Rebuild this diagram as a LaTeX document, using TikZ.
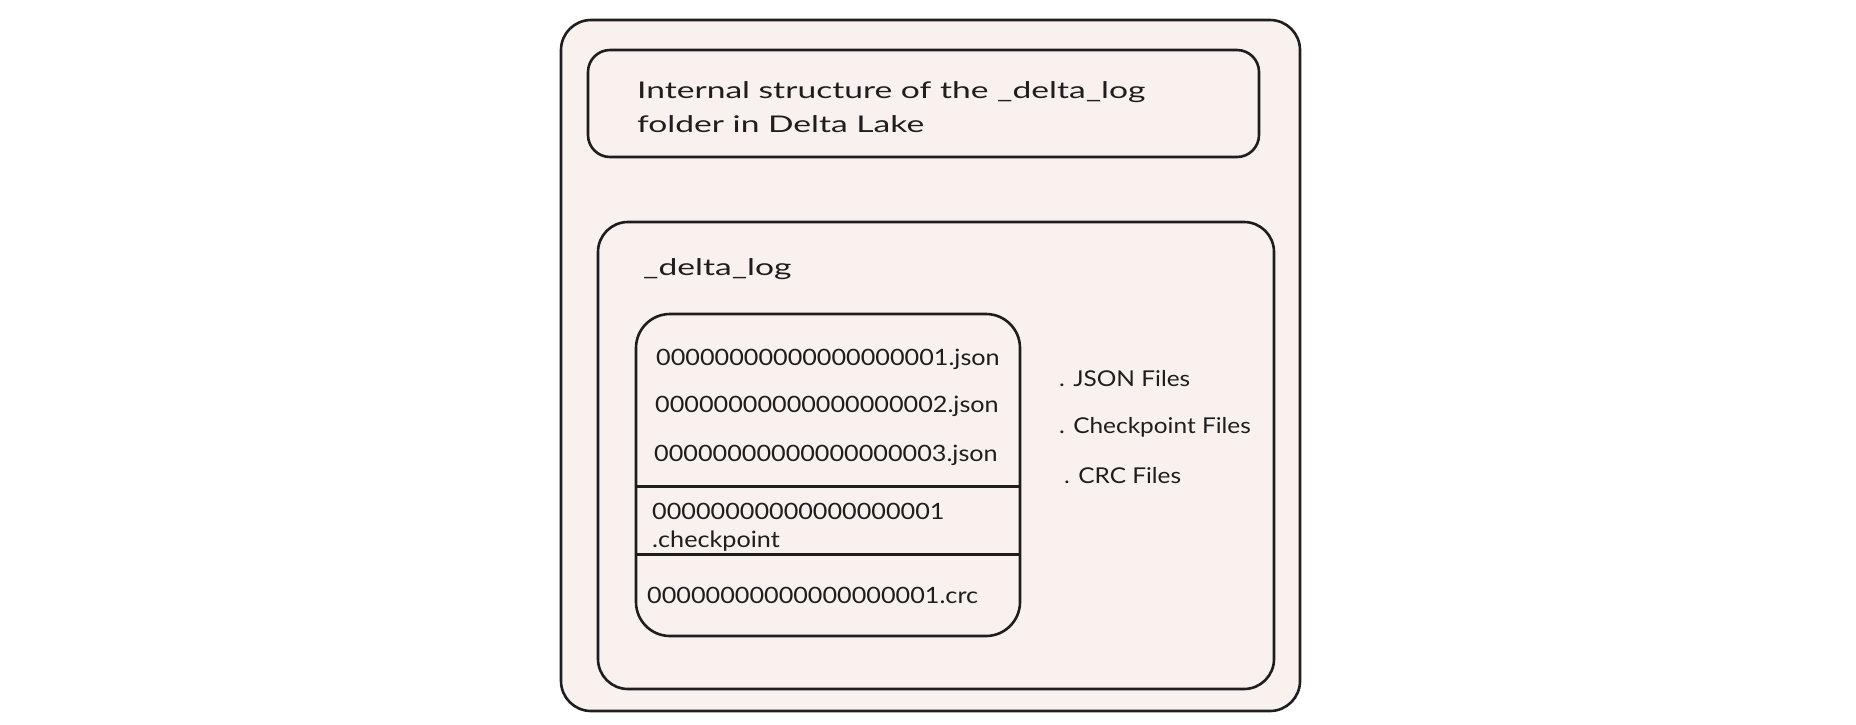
\documentclass[tikz,border=0pt]{standalone}
\usepackage{fontspec}
\newfontfamily\handfont[FakeStretch=1.12]{Lato}
\newfontfamily\widefont[FakeStretch=1.46]{Lato}
\definecolor{paper}{RGB}{248,241,238}
\definecolor{ink}{RGB}{30,30,30}
\tikzset{
  box/.style={draw=ink, fill=paper, line width=2.6pt, rounded corners=#1, inner sep=0pt},
  lbl/.style={anchor=west, inner sep=0pt, text=ink, font=\handfont\fontsize{22.5}{34}\selectfont, align=left},
  side/.style={lbl, font=\handfont\fontsize{21.8}{30}\selectfont},
  head/.style={lbl, font=\widefont\fontsize{23}{34}\selectfont},
  divider/.style={draw=ink, line width=3pt}
}
\begin{document}
\begin{tikzpicture}[x=1pt,y=-1pt]
\useasboundingbox (0,0) rectangle (1856,724);
\node[box=30pt, minimum width=739pt, minimum height=691pt] (outer) at (930.5,365.5) {};
\node[box=22pt, minimum width=671pt, minimum height=107pt] (titlebox) at (923.5,103.5) {};
\node[box=30pt, minimum width=676pt, minimum height=467pt] (delta) at (936,455.5) {};
\node[box=34pt, minimum width=384pt, minimum height=322pt] (files) at (828,475) {};
\coordinate (d1) at (0,486);
\coordinate (d2) at (0,554);
\draw[divider] (files.west |- d1) -- (files.east |- d1);
\draw[divider] (files.west |- d2) -- (files.east |- d2);
\node[head] (title) at (637,107) {Internal structure of the \_delta\_log\\folder in Delta Lake};
\node[head] (dlog) at (643,269) {\_delta\_log};
\node[lbl] (j1) at (656,359) {00000000000000000001.json};
\node[lbl] (j2) at (655,406) {00000000000000000002.json};
\node[lbl] (j3) at (654,455) {00000000000000000003.json};
\node[lbl, font=\handfont\fontsize{22.5}{28}\selectfont] (cp) at (652,527) {00000000000000000001\\.checkpoint};
\node[lbl] (crc) at (647,595) {00000000000000000001.crc};
\node[side] (t1) at (1059,379) {. JSON Files};
\node[side] (t2) at (1059,427) {. Checkpoint Files};
\node[side] (t3) at (1064,476) {. CRC Files};
\end{tikzpicture}
\end{document}
